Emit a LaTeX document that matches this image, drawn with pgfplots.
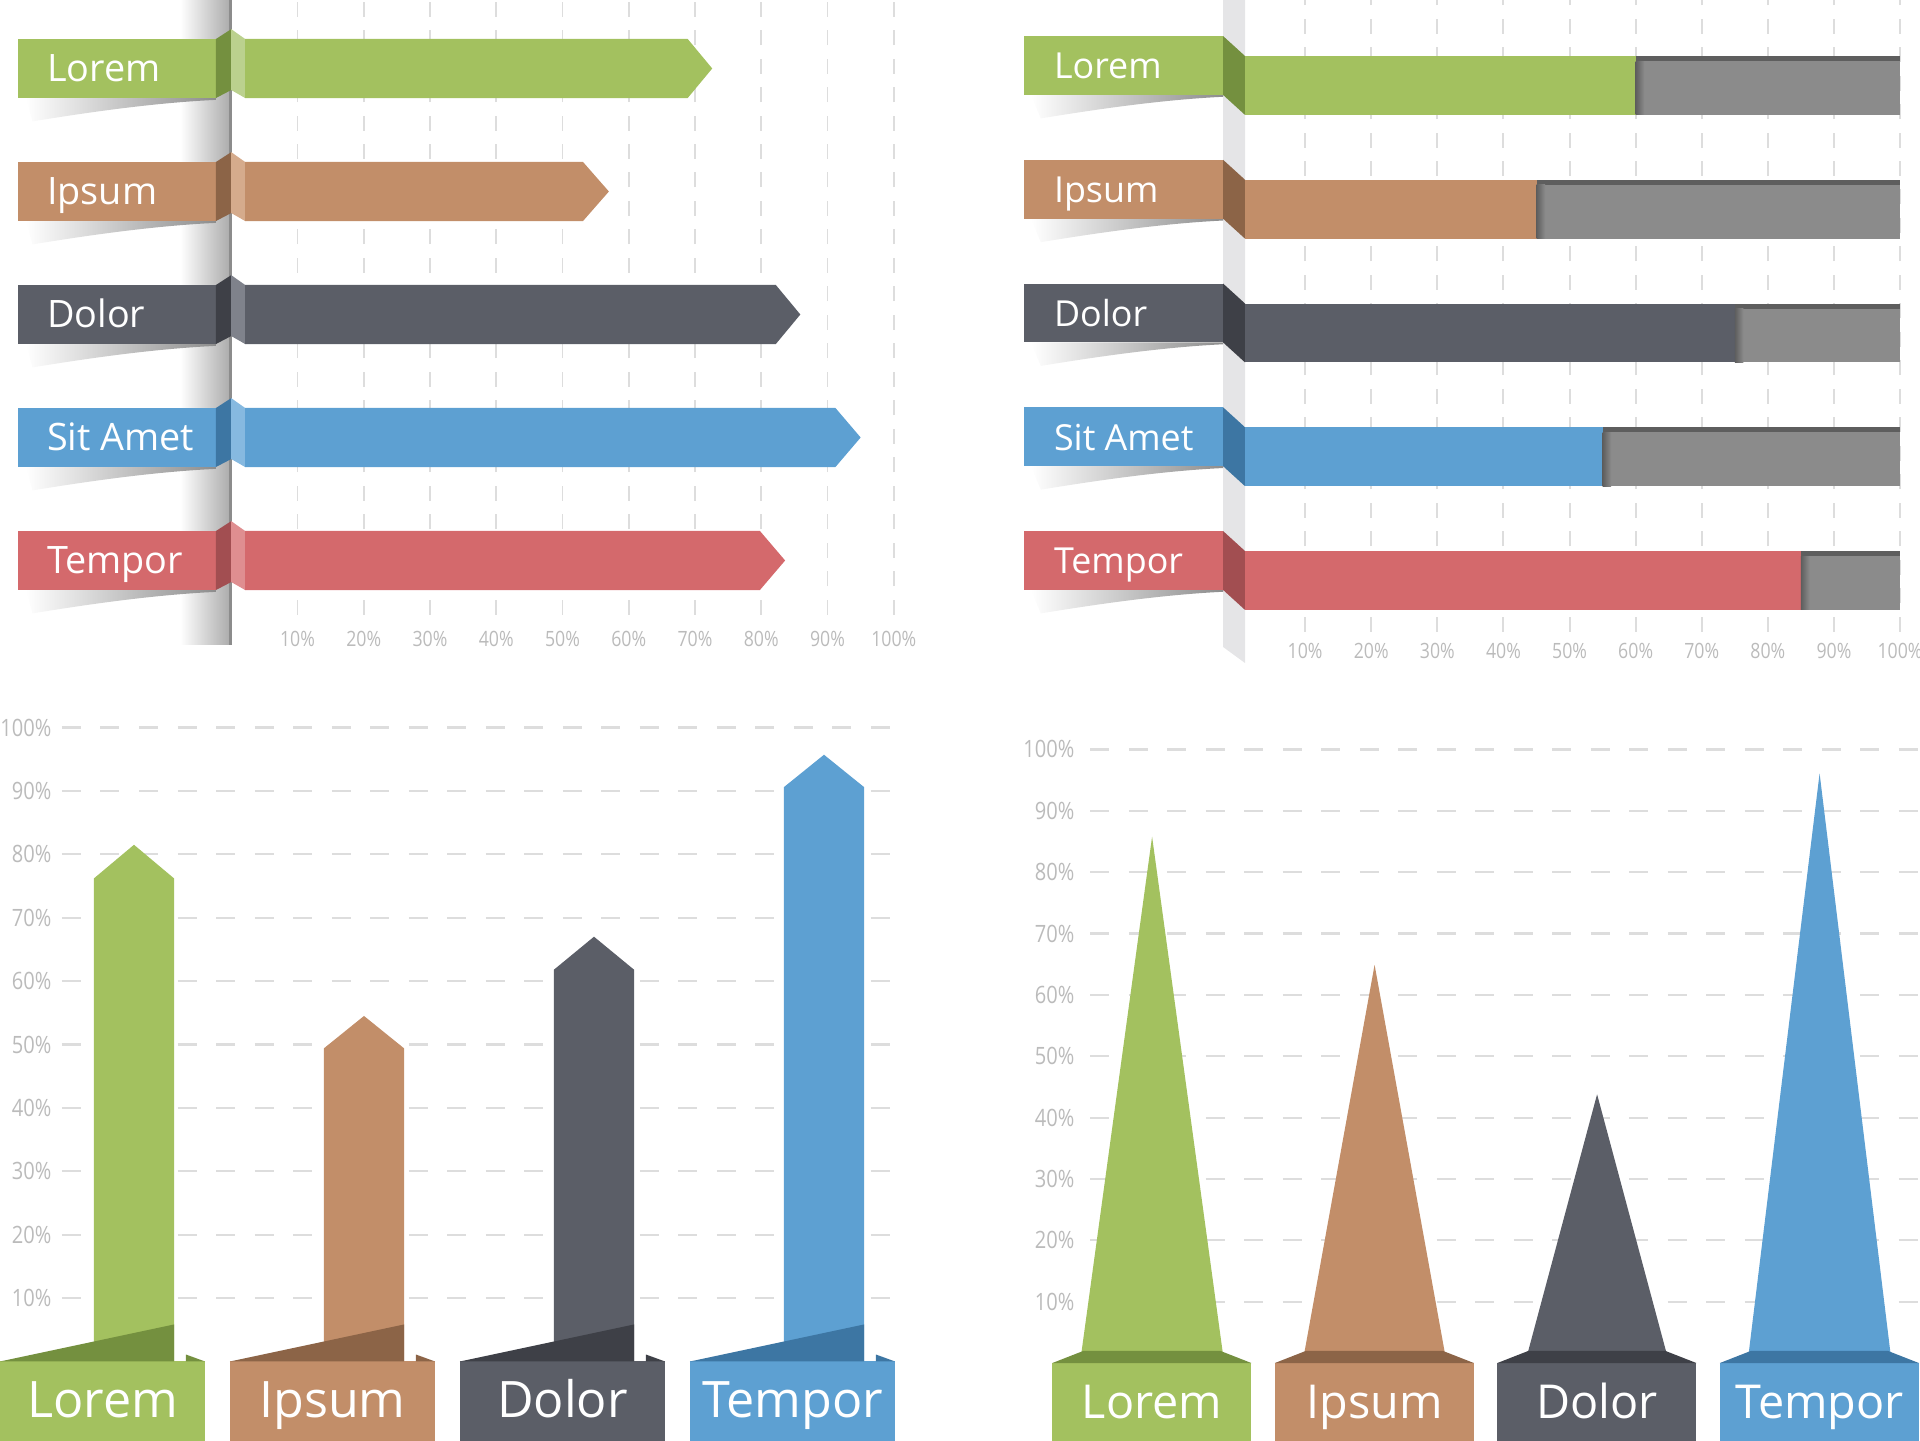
\documentclass[border=0pt]{standalone}
\usepackage{fontspec}
\setmainfont{Open Sans}
\newfontfamily\tickfont{Open Sans}[FakeStretch=0.84]
\usepackage{pgfplots}
\pgfplotsset{compat=1.18}
\definecolor{cgreen}{HTML}{A3C15F}
\definecolor{cgreenD}{HTML}{74903F}
\definecolor{cgreenL}{HTML}{BBD18E}
\definecolor{ctan}{HTML}{C28E69}
\definecolor{ctanD}{HTML}{8C6447}
\definecolor{ctanL}{HTML}{D5AB8C}
\definecolor{cslate}{HTML}{5B5E67}
\definecolor{cslateD}{HTML}{3E4047}
\definecolor{cslateL}{HTML}{7F828B}
\definecolor{cblue}{HTML}{5DA0D2}
\definecolor{cblueD}{HTML}{3D76A3}
\definecolor{cblueL}{HTML}{86B9E0}
\definecolor{cred}{HTML}{D4696C}
\definecolor{credD}{HTML}{A24E51}
\definecolor{credL}{HTML}{DF8E90}
\definecolor{cgrey}{HTML}{8B8B8B}
\definecolor{cgreyD}{HTML}{5E5E5E}
\definecolor{gridc}{HTML}{DDDDDD}
\definecolor{tickc}{HTML}{BBBBBB}
\definecolor{stripc}{HTML}{E5E5E7}
\pgfplotsset{
  infostyle/.style={
    anchor=south west, clip=false,
    axis line style={draw=none}, tick style={draw=none}, major tick length=0pt,
  },
}
\begin{document}
\begin{tikzpicture}
\useasboundingbox (0,0) rectangle (19.2,14.41);

%================ Panel 1: horizontal arrows =================
\begin{axis}[infostyle,
  at={(0cm,8.26cm)}, x=0.06626cm, y=1.23cm,
  xmin=-34.9, xmax=103, ymin=-0.443, ymax=4.557,
  ytick=\empty, xtick={10,20,...,100},
  xticklabels={10\%,20\%,30\%,40\%,50\%,60\%,70\%,80\%,90\%,100\%},
  xticklabel style={font=\tickfont\fontsize{6}{7}\selectfont, text=tickc, anchor=center, inner sep=0pt, yshift=-0.24cm},
  xmajorgrids,
  major grid style={draw=gridc, line width=0.55pt, dash pattern=on 0.15cm off 0.135cm},
]
\shade[left color=white, right color=black!32] (axis cs:-7.7,-0.687) rectangle (axis cs:-0.35,4.557);
\fill[black!45] (axis cs:-0.35,-0.687) rectangle (axis cs:0.1,4.557);
% Lorem
\shade[left color=white, right color=black!45] (axis cs:-31,3.76) -- (axis cs:-2.3,3.76) -- (axis cs:-2.3,3.745) .. controls (axis cs:-12,3.72) and (axis cs:-22,3.64) .. (axis cs:-30,3.57) -- cycle;
\fill[cgreen] (axis cs:-32.2,3.76) rectangle (axis cs:-2.3,4.24);
\fill[cgreenD] (axis cs:-2.3,3.76) -- (axis cs:0,3.825) -- (axis cs:0,4.32) -- (axis cs:-2.3,4.24) -- cycle;
\fill[cgreenL] (axis cs:0,3.825) -- (axis cs:2.1,3.76) -- (axis cs:2.1,4.24) -- (axis cs:0,4.32) -- cycle;
\addplot[draw=none, fill=cgreen] coordinates {(2.1,3.76) (68.9,3.76) (72.6,4) (68.9,4.24) (2.1,4.24)};
\node[anchor=base west, inner sep=0pt, text=white, font=\fontsize{10.75}{12}\selectfont] at (axis cs:-27.9,3.893) {Lorem};
% Ipsum
\shade[left color=white, right color=black!45] (axis cs:-31,2.76) -- (axis cs:-2.3,2.76) -- (axis cs:-2.3,2.745) .. controls (axis cs:-12,2.72) and (axis cs:-22,2.64) .. (axis cs:-30,2.57) -- cycle;
\fill[ctan] (axis cs:-32.2,2.76) rectangle (axis cs:-2.3,3.24);
\fill[ctanD] (axis cs:-2.3,2.76) -- (axis cs:0,2.825) -- (axis cs:0,3.32) -- (axis cs:-2.3,3.24) -- cycle;
\fill[ctanL] (axis cs:0,2.825) -- (axis cs:2.1,2.76) -- (axis cs:2.1,3.24) -- (axis cs:0,3.32) -- cycle;
\addplot[draw=none, fill=ctan] coordinates {(2.1,2.76) (53.1,2.76) (57.0,3) (53.1,3.24) (2.1,3.24)};
\node[anchor=base west, inner sep=0pt, text=white, font=\fontsize{10.75}{12}\selectfont] at (axis cs:-27.9,2.893) {Ipsum};
% Dolor
\shade[left color=white, right color=black!45] (axis cs:-31,1.76) -- (axis cs:-2.3,1.76) -- (axis cs:-2.3,1.745) .. controls (axis cs:-12,1.72) and (axis cs:-22,1.64) .. (axis cs:-30,1.57) -- cycle;
\fill[cslate] (axis cs:-32.2,1.76) rectangle (axis cs:-2.3,2.24);
\fill[cslateD] (axis cs:-2.3,1.76) -- (axis cs:0,1.825) -- (axis cs:0,2.32) -- (axis cs:-2.3,2.24) -- cycle;
\fill[cslateL] (axis cs:0,1.825) -- (axis cs:2.1,1.76) -- (axis cs:2.1,2.24) -- (axis cs:0,2.32) -- cycle;
\addplot[draw=none, fill=cslate] coordinates {(2.1,1.76) (82.2,1.76) (85.9,2) (82.2,2.24) (2.1,2.24)};
\node[anchor=base west, inner sep=0pt, text=white, font=\fontsize{10.75}{12}\selectfont] at (axis cs:-27.9,1.893) {Dolor};
% Sit Amet
\shade[left color=white, right color=black!45] (axis cs:-31,0.76) -- (axis cs:-2.3,0.76) -- (axis cs:-2.3,0.745) .. controls (axis cs:-12,0.72) and (axis cs:-22,0.64) .. (axis cs:-30,0.57) -- cycle;
\fill[cblue] (axis cs:-32.2,0.76) rectangle (axis cs:-2.3,1.24);
\fill[cblueD] (axis cs:-2.3,0.76) -- (axis cs:0,0.825) -- (axis cs:0,1.32) -- (axis cs:-2.3,1.24) -- cycle;
\fill[cblueL] (axis cs:0,0.825) -- (axis cs:2.1,0.76) -- (axis cs:2.1,1.24) -- (axis cs:0,1.32) -- cycle;
\addplot[draw=none, fill=cblue] coordinates {(2.1,0.76) (91.2,0.76) (95.0,1) (91.2,1.24) (2.1,1.24)};
\node[anchor=base west, inner sep=0pt, text=white, font=\fontsize{10.75}{12}\selectfont] at (axis cs:-27.9,0.893) {Sit Amet};
% Tempor
\shade[left color=white, right color=black!45] (axis cs:-31,-0.24) -- (axis cs:-2.3,-0.24) -- (axis cs:-2.3,-0.255) .. controls (axis cs:-12,-0.28) and (axis cs:-22,-0.36) .. (axis cs:-30,-0.43) -- cycle;
\fill[cred] (axis cs:-32.2,-0.24) rectangle (axis cs:-2.3,0.24);
\fill[credD] (axis cs:-2.3,-0.24) -- (axis cs:0,-0.175) -- (axis cs:0,0.32) -- (axis cs:-2.3,0.24) -- cycle;
\fill[credL] (axis cs:0,-0.175) -- (axis cs:2.1,-0.24) -- (axis cs:2.1,0.24) -- (axis cs:0,0.32) -- cycle;
\addplot[draw=none, fill=cred] coordinates {(2.1,-0.24) (79.8,-0.24) (83.6,0) (79.8,0.24) (2.1,0.24)};
\node[anchor=base west, inner sep=0pt, text=white, font=\fontsize{10.75}{12}\selectfont] at (axis cs:-27.9,-0.107) {Tempor};
\end{axis}

%================ Panel 2: progress bars =================
\begin{axis}[infostyle,
  at={(10.209cm,8.09cm)}, x=0.0661cm, y=1.2375cm,
  xmin=-33, xmax=103, ymin=-0.416, ymax=4.691,
  ytick=\empty, xtick={10,20,...,100},
  xticklabels={10\%,20\%,30\%,40\%,50\%,60\%,70\%,80\%,90\%,100\%},
  xticklabel style={font=\tickfont\fontsize{6}{7}\selectfont, text=tickc, anchor=center, inner sep=0pt, yshift=-0.19cm},
  xmajorgrids,
  major grid style={draw=gridc, line width=0.55pt, dash pattern=on 0.15cm off 0.135cm},
]
\fill[stripc] (axis cs:-2.42,-0.537) -- (axis cs:0.91,-0.667) -- (axis cs:0.91,4.691) -- (axis cs:-2.42,4.691) -- cycle;
% Lorem
\shade[left color=white, right color=black!45] (axis cs:-31.5,3.924) -- (axis cs:-2.42,3.924) -- (axis cs:-2.42,3.909) .. controls (axis cs:-12,3.884) and (axis cs:-22,3.804) .. (axis cs:-30,3.734) -- cycle;
\fill[cgreen] (axis cs:-32.5,3.924) rectangle (axis cs:-2.42,4.4);
\fill[cgreenD] (axis cs:-2.42,3.924) -- (axis cs:0.91,3.762) -- (axis cs:0.91,4.238) -- (axis cs:-2.42,4.4) -- cycle;
\addplot[draw=none, fill=cgreen] coordinates {(0.91,3.762) (60,3.762) (60,4.238) (0.91,4.238)};
\addplot[draw=none, fill=cgrey] coordinates {(60,3.762) (100,3.762) (100,4.238) (60,4.238)};
\fill[cgreyD] (axis cs:60,4.198) rectangle (axis cs:100,4.238);
\shade[left color=cgreyD, right color=cgrey] (axis cs:60,3.762) rectangle (axis cs:61.3,4.198);
\node[anchor=base west, inner sep=0pt, text=white, font=\fontsize{10.2}{12}\selectfont] at (axis cs:-28.1,4.053) {Lorem};
% Ipsum
\shade[left color=white, right color=black!45] (axis cs:-31.5,2.924) -- (axis cs:-2.42,2.924) -- (axis cs:-2.42,2.909) .. controls (axis cs:-12,2.884) and (axis cs:-22,2.804) .. (axis cs:-30,2.734) -- cycle;
\fill[ctan] (axis cs:-32.5,2.924) rectangle (axis cs:-2.42,3.4);
\fill[ctanD] (axis cs:-2.42,2.924) -- (axis cs:0.91,2.762) -- (axis cs:0.91,3.238) -- (axis cs:-2.42,3.4) -- cycle;
\addplot[draw=none, fill=ctan] coordinates {(0.91,2.762) (45,2.762) (45,3.238) (0.91,3.238)};
\addplot[draw=none, fill=cgrey] coordinates {(45,2.762) (100,2.762) (100,3.238) (45,3.238)};
\fill[cgreyD] (axis cs:45,3.198) rectangle (axis cs:100,3.238);
\shade[left color=cgreyD, right color=cgrey] (axis cs:45,2.762) rectangle (axis cs:46.3,3.198);
\node[anchor=base west, inner sep=0pt, text=white, font=\fontsize{10.2}{12}\selectfont] at (axis cs:-28.1,3.053) {Ipsum};
% Dolor
\shade[left color=white, right color=black!45] (axis cs:-31.5,1.924) -- (axis cs:-2.42,1.924) -- (axis cs:-2.42,1.909) .. controls (axis cs:-12,1.884) and (axis cs:-22,1.804) .. (axis cs:-30,1.734) -- cycle;
\fill[cslate] (axis cs:-32.5,1.924) rectangle (axis cs:-2.42,2.4);
\fill[cslateD] (axis cs:-2.42,1.924) -- (axis cs:0.91,1.762) -- (axis cs:0.91,2.238) -- (axis cs:-2.42,2.4) -- cycle;
\addplot[draw=none, fill=cslate] coordinates {(0.91,1.762) (75,1.762) (75,2.238) (0.91,2.238)};
\addplot[draw=none, fill=cgrey] coordinates {(75,1.762) (100,1.762) (100,2.238) (75,2.238)};
\fill[cgreyD] (axis cs:75,2.198) rectangle (axis cs:100,2.238);
\shade[left color=cgreyD, right color=cgrey] (axis cs:75,1.762) rectangle (axis cs:76.3,2.198);
\node[anchor=base west, inner sep=0pt, text=white, font=\fontsize{10.2}{12}\selectfont] at (axis cs:-28.1,2.053) {Dolor};
% Sit Amet
\shade[left color=white, right color=black!45] (axis cs:-31.5,0.924) -- (axis cs:-2.42,0.924) -- (axis cs:-2.42,0.909) .. controls (axis cs:-12,0.884) and (axis cs:-22,0.804) .. (axis cs:-30,0.734) -- cycle;
\fill[cblue] (axis cs:-32.5,0.924) rectangle (axis cs:-2.42,1.4);
\fill[cblueD] (axis cs:-2.42,0.924) -- (axis cs:0.91,0.762) -- (axis cs:0.91,1.238) -- (axis cs:-2.42,1.4) -- cycle;
\addplot[draw=none, fill=cblue] coordinates {(0.91,0.762) (55,0.762) (55,1.238) (0.91,1.238)};
\addplot[draw=none, fill=cgrey] coordinates {(55,0.762) (100,0.762) (100,1.238) (55,1.238)};
\fill[cgreyD] (axis cs:55,1.198) rectangle (axis cs:100,1.238);
\shade[left color=cgreyD, right color=cgrey] (axis cs:55,0.762) rectangle (axis cs:56.3,1.198);
\node[anchor=base west, inner sep=0pt, text=white, font=\fontsize{10.2}{12}\selectfont] at (axis cs:-28.1,1.053) {Sit Amet};
% Tempor
\shade[left color=white, right color=black!45] (axis cs:-31.5,-0.076) -- (axis cs:-2.42,-0.076) -- (axis cs:-2.42,-0.091) .. controls (axis cs:-12,-0.116) and (axis cs:-22,-0.196) .. (axis cs:-30,-0.266) -- cycle;
\fill[cred] (axis cs:-32.5,-0.076) rectangle (axis cs:-2.42,0.4);
\fill[credD] (axis cs:-2.42,-0.076) -- (axis cs:0.91,-0.238) -- (axis cs:0.91,0.238) -- (axis cs:-2.42,0.4) -- cycle;
\addplot[draw=none, fill=cred] coordinates {(0.91,-0.238) (85,-0.238) (85,0.238) (0.91,0.238)};
\addplot[draw=none, fill=cgrey] coordinates {(85,-0.238) (100,-0.238) (100,0.238) (85,0.238)};
\fill[cgreyD] (axis cs:85,0.198) rectangle (axis cs:100,0.238);
\shade[left color=cgreyD, right color=cgrey] (axis cs:85,-0.238) rectangle (axis cs:86.3,0.198);
\node[anchor=base west, inner sep=0pt, text=white, font=\fontsize{10.2}{12}\selectfont] at (axis cs:-28.1,0.053) {Tempor};
\end{axis}

%================ Panel 3: vertical arrows =================
\begin{axis}[infostyle,
  at={(0.62cm,0cm)}, x=2.3cm, y=0.0634cm,
  xmin=-0.313, xmax=3.304, ymin=-12.54, ymax=101,
  xtick=\empty, ytick={10,20,...,100},
  yticklabels={10\%,20\%,30\%,40\%,50\%,60\%,70\%,80\%,90\%,100\%},
  yticklabel style={font=\tickfont\fontsize{6.8}{8}\selectfont, text=tickc, anchor=east, inner sep=0pt, xshift=-0.10cm},
  ymajorgrids,
  major grid style={draw=gridc, line width=0.6pt, dash pattern=on 0.19cm off 0.195cm},
]
% Lorem
\addplot[draw=none, fill=cgreen] coordinates {(-0.174,0) (-0.174,76.2) (0,81.5) (0.174,76.2) (0.174,0)};
\fill[cgreen] (axis cs:-0.583,-12.54) rectangle (axis cs:0.309,0);
\fill[cgreenD] (axis cs:-0.583,0) -- (axis cs:0.174,5.84) -- (axis cs:0.174,0) -- cycle;
\fill[cgreenD] (axis cs:0.226,0) -- (axis cs:0.226,1.1) -- (axis cs:0.309,0) -- cycle;
\node[anchor=base, inner sep=0pt, text=white, font=\fontsize{14.3}{16}\selectfont] at (axis cs:-0.137,-8.91) {Lorem};
% Ipsum
\addplot[draw=none, fill=ctan] coordinates {(0.826,0) (0.826,49.4) (1,54.5) (1.174,49.4) (1.174,0)};
\fill[ctan] (axis cs:0.417,-12.54) rectangle (axis cs:1.309,0);
\fill[ctanD] (axis cs:0.417,0) -- (axis cs:1.174,5.84) -- (axis cs:1.174,0) -- cycle;
\fill[ctanD] (axis cs:1.226,0) -- (axis cs:1.226,1.1) -- (axis cs:1.309,0) -- cycle;
\node[anchor=base, inner sep=0pt, text=white, font=\fontsize{14.3}{16}\selectfont] at (axis cs:0.863,-8.91) {Ipsum};
% Dolor
\addplot[draw=none, fill=cslate] coordinates {(1.826,0) (1.826,61.8) (2,67.0) (2.174,61.8) (2.174,0)};
\fill[cslate] (axis cs:1.417,-12.54) rectangle (axis cs:2.309,0);
\fill[cslateD] (axis cs:1.417,0) -- (axis cs:2.174,5.84) -- (axis cs:2.174,0) -- cycle;
\fill[cslateD] (axis cs:2.226,0) -- (axis cs:2.226,1.1) -- (axis cs:2.309,0) -- cycle;
\node[anchor=base, inner sep=0pt, text=white, font=\fontsize{14.3}{16}\selectfont] at (axis cs:1.863,-8.91) {Dolor};
% Tempor
\addplot[draw=none, fill=cblue] coordinates {(2.826,0) (2.826,90.6) (3,95.7) (3.174,90.6) (3.174,0)};
\fill[cblue] (axis cs:2.417,-12.54) rectangle (axis cs:3.309,0);
\fill[cblueD] (axis cs:2.417,0) -- (axis cs:3.174,5.84) -- (axis cs:3.174,0) -- cycle;
\fill[cblueD] (axis cs:3.226,0) -- (axis cs:3.226,1.1) -- (axis cs:3.309,0) -- cycle;
\node[anchor=base, inner sep=0pt, text=white, font=\fontsize{14.3}{16}\selectfont] at (axis cs:2.863,-8.91) {Tempor};
\end{axis}

%================ Panel 4: triangles =================
\begin{axis}[infostyle,
  at={(10.90cm,0cm)}, x=2.225cm, y=0.06136cm,
  xmin=-0.279, xmax=3.452, ymin=-12.71, ymax=101,
  xtick=\empty, ytick={10,20,...,100},
  yticklabels={10\%,20\%,30\%,40\%,50\%,60\%,70\%,80\%,90\%,100\%},
  yticklabel style={font=\tickfont\fontsize{6.8}{8}\selectfont, text=tickc, anchor=east, inner sep=0pt, xshift=-0.15cm},
  ymajorgrids,
  major grid style={draw=gridc, line width=0.6pt, dash pattern=on 0.19cm off 0.195cm},
]
% Lorem
\addplot[draw=none, fill=cgreen] coordinates {(-0.324,0) (0,85.8) (0.324,0)};
\fill[cgreen] (axis cs:-0.448,-12.71) rectangle (axis cs:0.446,0);
\fill[cgreenD] (axis cs:-0.448,0) -- (axis cs:-0.31,1.96) -- (axis cs:0.308,1.96) -- (axis cs:0.446,0) -- cycle;
\node[anchor=base, inner sep=0pt, text=white, font=\fontsize{13.3}{15}\selectfont] at (axis cs:0,-9.01) {Lorem};
% Ipsum
\addplot[draw=none, fill=ctan] coordinates {(0.676,0) (1,64.9) (1.324,0)};
\fill[ctan] (axis cs:0.552,-12.71) rectangle (axis cs:1.446,0);
\fill[ctanD] (axis cs:0.552,0) -- (axis cs:0.69,1.96) -- (axis cs:1.308,1.96) -- (axis cs:1.446,0) -- cycle;
\node[anchor=base, inner sep=0pt, text=white, font=\fontsize{13.3}{15}\selectfont] at (axis cs:1,-9.01) {Ipsum};
% Dolor
\addplot[draw=none, fill=cslate] coordinates {(1.676,0) (2,43.8) (2.324,0)};
\fill[cslate] (axis cs:1.552,-12.71) rectangle (axis cs:2.446,0);
\fill[cslateD] (axis cs:1.552,0) -- (axis cs:1.69,1.96) -- (axis cs:2.308,1.96) -- (axis cs:2.446,0) -- cycle;
\node[anchor=base, inner sep=0pt, text=white, font=\fontsize{13.3}{15}\selectfont] at (axis cs:2,-9.01) {Dolor};
% Tempor
\addplot[draw=none, fill=cblue] coordinates {(2.676,0) (3,96.1) (3.324,0)};
\fill[cblue] (axis cs:2.552,-12.71) rectangle (axis cs:3.446,0);
\fill[cblueD] (axis cs:2.552,0) -- (axis cs:2.69,1.96) -- (axis cs:3.308,1.96) -- (axis cs:3.446,0) -- cycle;
\node[anchor=base, inner sep=0pt, text=white, font=\fontsize{13.3}{15}\selectfont] at (axis cs:3,-9.01) {Tempor};
\end{axis}
\end{tikzpicture}
\end{document}
